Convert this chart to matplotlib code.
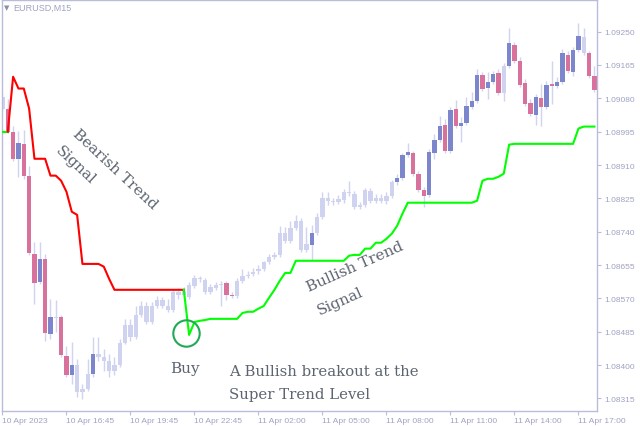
import numpy as np
import matplotlib.pyplot as plt
from matplotlib.patches import Rectangle

# EURUSD M15 candles, 10-11 Apr 2023
opens = [1.09084, 1.09054, 1.08995, 1.08926, 1.08964, 1.08883, 1.08684, 1.08612, 1.08671, 1.08480,
         1.08523, 1.08523, 1.08424, 1.08375, 1.08401, 1.08332, 1.08340, 1.08378, 1.08429, 1.08421,
         1.08411, 1.08385, 1.08401, 1.08457, 1.08503, 1.08472, 1.08528, 1.08551, 1.08510, 1.08551,
         1.08566, 1.08551, 1.08541, 1.08587, 1.08579, 1.08574, 1.08602, 1.08623, 1.08617, 1.08587,
         1.08597, 1.08605, 1.08610, 1.08579, 1.08577, 1.08615, 1.08628, 1.08633, 1.08640, 1.08646,
         1.08663, 1.08676, 1.08681, 1.08737, 1.08717, 1.08750, 1.08768, 1.08694, 1.08707, 1.08737,
         1.08778, 1.08827, 1.08819, 1.08816, 1.08821, 1.08842, 1.08837, 1.08804, 1.08809, 1.08844,
         1.08819, 1.08827, 1.08819, 1.08832, 1.08867, 1.08878, 1.08936, 1.08941, 1.08888, 1.08847,
         1.08834, 1.08941, 1.08974, 1.09013, 1.08946, 1.09054, 1.09010, 1.09018, 1.09059, 1.09074,
         1.09140, 1.09107, 1.09122, 1.09145, 1.09094, 1.09163, 1.09217, 1.09176, 1.09120, 1.09069,
         1.09038, 1.09082, 1.09059, 1.09117, 1.09112, 1.09122, 1.09191, 1.09148, 1.09204, 1.09237,
         1.09196, 1.09138]
closes = [1.09054, 1.08995, 1.08926, 1.08967, 1.08883, 1.08686, 1.08610, 1.08671, 1.08482, 1.08523,
          1.08521, 1.08426, 1.08375, 1.08401, 1.08332, 1.08340, 1.08378, 1.08429, 1.08421, 1.08411,
          1.08385, 1.08401, 1.08457, 1.08503, 1.08472, 1.08528, 1.08551, 1.08510, 1.08551, 1.08566,
          1.08551, 1.08541, 1.08587, 1.08579, 1.08589, 1.08605, 1.08623, 1.08620, 1.08587, 1.08600,
          1.08605, 1.08607, 1.08579, 1.08577, 1.08615, 1.08628, 1.08630, 1.08638, 1.08646, 1.08663,
          1.08676, 1.08681, 1.08737, 1.08717, 1.08750, 1.08768, 1.08694, 1.08709, 1.08737, 1.08778,
          1.08827, 1.08819, 1.08816, 1.08824, 1.08842, 1.08839, 1.08804, 1.08809, 1.08847, 1.08819,
          1.08827, 1.08819, 1.08832, 1.08867, 1.08878, 1.08936, 1.08944, 1.08888, 1.08847, 1.08832,
          1.08944, 1.08974, 1.09010, 1.08946, 1.09051, 1.09010, 1.09018, 1.09061, 1.09074, 1.09140,
          1.09105, 1.09122, 1.09143, 1.09094, 1.09163, 1.09222, 1.09176, 1.09115, 1.09066, 1.09041,
          1.09084, 1.09059, 1.09115, 1.09112, 1.09122, 1.09196, 1.09150, 1.09204, 1.09240, 1.09196,
          1.09138, 1.09102]
highs = [1.09092, 1.09079, 1.09010, 1.08997, 1.09000, 1.08908, 1.08714, 1.08714, 1.08684, 1.08569,
         1.08566, 1.08528, 1.08449, 1.08459, 1.08416, 1.08352, 1.08416, 1.08472, 1.08472, 1.08442,
         1.08429, 1.08421, 1.08467, 1.08518, 1.08518, 1.08551, 1.08564, 1.08561, 1.08561, 1.08577,
         1.08574, 1.08569, 1.08595, 1.08597, 1.08600, 1.08612, 1.08630, 1.08628, 1.08623, 1.08607,
         1.08612, 1.08615, 1.08615, 1.08587, 1.08623, 1.08646, 1.08640, 1.08648, 1.08656, 1.08666,
         1.08684, 1.08689, 1.08755, 1.08753, 1.08768, 1.08783, 1.08776, 1.08753, 1.08758, 1.08788,
         1.08842, 1.08842, 1.08827, 1.08834, 1.08850, 1.08870, 1.08844, 1.08816, 1.08852, 1.08852,
         1.08837, 1.08837, 1.08842, 1.08872, 1.08888, 1.08941, 1.08967, 1.08946, 1.08895, 1.08855,
         1.08952, 1.08990, 1.09036, 1.09028, 1.09059, 1.09076, 1.09033, 1.09084, 1.09097, 1.09156,
         1.09148, 1.09148, 1.09150, 1.09156, 1.09171, 1.09260, 1.09224, 1.09186, 1.09130, 1.09079,
         1.09092, 1.09117, 1.09125, 1.09176, 1.09135, 1.09207, 1.09201, 1.09212, 1.09273, 1.09260,
         1.09201, 1.09163]
lows = [1.09048, 1.08992, 1.08921, 1.08880, 1.08875, 1.08681, 1.08556, 1.08607, 1.08462, 1.08467,
        1.08485, 1.08421, 1.08370, 1.08352, 1.08319, 1.08314, 1.08334, 1.08370, 1.08411, 1.08385,
        1.08370, 1.08375, 1.08396, 1.08454, 1.08462, 1.08467, 1.08523, 1.08505, 1.08505, 1.08546,
        1.08546, 1.08536, 1.08536, 1.08569, 1.08569, 1.08569, 1.08597, 1.08612, 1.08582, 1.08582,
        1.08592, 1.08551, 1.08566, 1.08572, 1.08572, 1.08610, 1.08623, 1.08628, 1.08633, 1.08640,
        1.08658, 1.08671, 1.08676, 1.08712, 1.08712, 1.08745, 1.08689, 1.08689, 1.08666, 1.08732,
        1.08773, 1.08809, 1.08809, 1.08811, 1.08814, 1.08832, 1.08798, 1.08798, 1.08804, 1.08814,
        1.08814, 1.08814, 1.08811, 1.08827, 1.08860, 1.08872, 1.08931, 1.08883, 1.08842, 1.08804,
        1.08829, 1.08926, 1.08969, 1.08941, 1.08941, 1.09005, 1.08969, 1.09013, 1.09054, 1.09069,
        1.09099, 1.09079, 1.09117, 1.09089, 1.09074, 1.09158, 1.09171, 1.09110, 1.09061, 1.09036,
        1.09013, 1.09010, 1.09054, 1.09066, 1.09107, 1.09117, 1.09145, 1.09138, 1.09199, 1.09191,
        1.09133, 1.09097]
# L = light, P = pink (strong bear), B = blue (strong bull)
kinds = ("LPPBPPPBPBLPPBLLLBLLLLLLLLLLLLLLLLLLLLLLLLPPLLLLLLLLLLLLLLBLL"
         "LLLLLLLLLLLLLBBBPPPBBBPBPBBBBPBBPLBPPPPBPBPBBPBBLPP")

# Super Trend line: green before the first flip, red while bearish, green after the breakout
st_green0 = [1.08995, 1.08995]
st_red = [1.08995, 1.09135, 1.09105, 1.09105, 1.09054, 1.08926, 1.08926, 1.08926, 1.08883, 1.08883,
          1.08870, 1.08842, 1.08791, 1.08783, 1.08658, 1.08658, 1.08658, 1.08658, 1.08651, 1.08620,
          1.08592, 1.08592, 1.08592, 1.08592, 1.08592, 1.08592, 1.08592, 1.08592, 1.08592, 1.08592,
          1.08592, 1.08592, 1.08592, 1.08592]
st_green = [1.08592, 1.08477, 1.08510, 1.08513, 1.08515, 1.08518, 1.08518, 1.08518, 1.08518, 1.08518,
            1.08518, 1.08533, 1.08536, 1.08536, 1.08544, 1.08551, 1.08572, 1.08592, 1.08615, 1.08635,
            1.08635, 1.08666, 1.08666, 1.08666, 1.08666, 1.08666, 1.08666, 1.08666, 1.08666, 1.08666,
            1.08666, 1.08679, 1.08681, 1.08681, 1.08697, 1.08697, 1.08712, 1.08712, 1.08722, 1.08735,
            1.08755, 1.08786, 1.08814, 1.08814, 1.08814, 1.08814, 1.08814, 1.08814, 1.08814, 1.08814,
            1.08814, 1.08814, 1.08814, 1.08814, 1.08814, 1.08819, 1.08870, 1.08875, 1.08875, 1.08880,
            1.08888, 1.08962, 1.08964, 1.08964, 1.08964, 1.08964, 1.08964, 1.08964, 1.08964, 1.08964,
            1.08964, 1.08964, 1.08964, 1.08964, 1.09003, 1.09008, 1.09008, 1.09008]
red_start = 1
green_start = 34
buy_bar = 35

ytick_vals = [1.09250, 1.09165, 1.09080, 1.08995, 1.08910, 1.08825, 1.08740, 1.08655,
              1.08570, 1.08485, 1.08400, 1.08315]
xtick_bars = [0, 12, 24, 36, 48, 60, 72, 84, 96, 108]
xtick_labels = ["10 Apr 2023", "10 Apr 16:45", "10 Apr 19:45", "10 Apr 22:45", "11 Apr 02:00",
                "11 Apr 05:00", "11 Apr 08:00", "11 Apr 11:00", "11 Apr 14:00", "11 Apr 17:00"]

colors = {"L": "#cfd3f0", "P": "#d9719d", "B": "#7b86cc"}
wick_color = "#d0d4ef"
axis_color = "#b9bdd9"
label_color = "#9ea3c2"
note_color = "#5c6470"

fig = plt.figure(figsize=(6.4, 4.27), dpi=100)
ax = fig.add_axes([0.003, 0.035, 0.930, 0.963])

w = 0.8
for i in range(len(opens)):
    o, c, h, l = opens[i], closes[i], highs[i], lows[i]
    ax.vlines(i, l, h, color=wick_color, lw=1, zorder=1)
    bottom = min(o, c)
    height = max(abs(c - o), 0.000012)
    ax.add_patch(Rectangle((i - w / 2, bottom), w, height, facecolor=colors[kinds[i]],
                           edgecolor="none", zorder=2))

ax.plot(range(len(st_green0)), st_green0, color="#00ff00", lw=1.5, zorder=3)
ax.plot(range(red_start, red_start + len(st_red)), st_red, color="#ff0000", lw=1.5, zorder=3)
ax.plot(range(green_start, green_start + len(st_green)), st_green, color="#00ff00", lw=1.5, zorder=3)

# circle round the buy point
ax.plot(buy_bar - 0.5, st_green[buy_bar - green_start] + 0.00004, marker="o", ms=19, mfc="none",
        mec="#1faa55", mew=1.5, zorder=4)

ax.set_xlim(-0.1, 111.5)
ax.set_ylim(1.08283, 1.09331)

ax.yaxis.tick_right()
ax.set_yticks(ytick_vals)
ax.set_yticklabels([f"{v:.5f}" for v in ytick_vals])
ax.set_xticks(xtick_bars)
ax.set_xticklabels(xtick_labels, ha="left")
ax.tick_params(axis="both", colors=axis_color, labelcolor=label_color, labelsize=6,
               length=3, width=0.8, pad=2)
ax.tick_params(axis="x", pad=1.5)
for lab in ax.get_xticklabels() + ax.get_yticklabels():
    lab.set_family("Liberation Sans")
for s in ax.spines.values():
    s.set_color(axis_color)
    s.set_linewidth(1)

fig.text(0.006, 0.981, "\u25bc", fontsize=5, color="#8a8fa8", va="center")
fig.text(0.021, 0.981, "EURUSD,M15", fontsize=6.5, color=label_color, va="center",
         family="Liberation Sans")

serif = "DejaVu Serif"
tkw = dict(color=note_color, family=serif, fontsize=11, ha="center", va="center",
           rotation_mode="anchor")
ax.text(0.190, 0.590, "Bearish Trend", rotation=-43, transform=ax.transAxes, **tkw)
ax.text(0.124, 0.600, "Signal", rotation=-43, transform=ax.transAxes, **tkw)
ax.text(0.593, 0.352, "Bullish Trend", rotation=24, transform=ax.transAxes, **tkw)
ax.text(0.568, 0.268, "Signal", rotation=24, transform=ax.transAxes, **tkw)
ax.text(0.308, 0.105, "Buy", transform=ax.transAxes, **tkw)
ax.text(0.381, 0.098, "A Bullish breakout at the", color=note_color, family=serif,
        fontsize=10.7, ha="left", va="center", transform=ax.transAxes)
ax.text(0.381, 0.042, "Super Trend Level", color=note_color, family=serif,
        fontsize=10.7, ha="left", va="center", transform=ax.transAxes)

fig.savefig("out.png", dpi=100)
